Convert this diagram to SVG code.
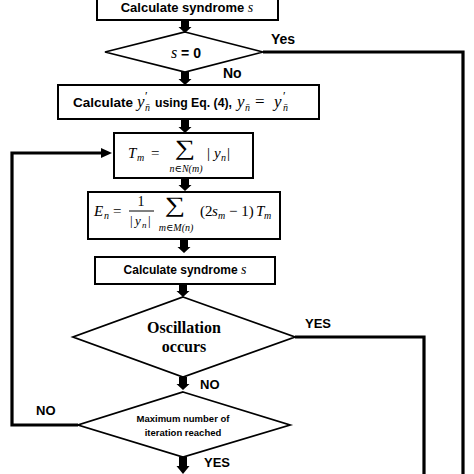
<svg xmlns="http://www.w3.org/2000/svg" width="474" height="474" viewBox="0 0 474 474">
<style>
.box{fill:#fff;stroke:#000;stroke-width:2}
.dia{fill:#fff;stroke:#000;stroke-width:1.8}
.line{fill:none;stroke:#000;stroke-width:3.2}
.blk{fill:#000}
.lbl{font-family:"Liberation Sans",Arial,sans-serif;font-weight:bold;fill:#000}
.m{font-family:"Liberation Serif","DejaVu Serif",serif;font-style:italic;fill:#000}
.mr{font-family:"Liberation Serif","DejaVu Serif",serif;fill:#000}
.tb{font-family:"Liberation Serif","Times New Roman",serif;font-weight:bold;fill:#000}
</style>
<defs>
<path id="barrow" d="M-4,0 H4 V7 H6.5 L0,13 L-6.5,7 H-4 Z"/>
</defs>
<rect width="474" height="474" fill="#fff"/>
<g id="connectors">
<use href="#barrow" class="blk" x="185" y="20"/>
<use href="#barrow" class="blk" x="185" y="72"/>
<use href="#barrow" class="blk" x="185" y="120"/>
<use href="#barrow" class="blk" x="185" y="178"/>
<use href="#barrow" class="blk" x="184" y="240"/>
<use href="#barrow" class="blk" x="183" y="284"/>
<use href="#barrow" class="blk" x="183" y="377"/>
<path class="blk" d="M179,457 H187 V466 H189.5 L183,474 L176.5,466 H179 Z"/>
<polyline class="line" points="263,52 463,52 463,476"/>
<polyline class="line" points="295,337 424,337 424,476"/>
<polyline class="line" points="78,425 12,425 12,153 103,153"/>
<path class="blk" d="M101,148 L112,153 L101,158 Z"/>
<text class="lbl" x="271" y="44" font-size="14">Yes</text>
<text class="lbl" x="223" y="78" font-size="14">No</text>
<text class="lbl" x="305" y="328" font-size="13">YES</text>
<text class="lbl" x="200" y="389" font-size="13">NO</text>
<text class="lbl" x="36" y="415" font-size="13">NO</text>
<text class="lbl" x="204" y="467" font-size="13">YES</text>
</g>
<g id="n1">
<rect class="box" x="97" y="-10" width="181" height="30"/>
<text class="lbl" x="187" y="12" font-size="13" text-anchor="middle">Calculate syndrome <tspan class="m" font-weight="normal" font-size="14">s</tspan></text>
</g>
<g id="n2">
<polygon class="dia" points="185,32 263,52 185,72 105,52"/>
<text class="lbl" x="186" y="58" font-size="14" text-anchor="middle"><tspan class="m" font-weight="normal" font-size="16">s</tspan> = 0</text>
</g>
<g id="n3">
<rect class="box" x="58" y="85" width="261" height="34"/>
<text class="lbl" x="73" y="107" font-size="13.5">Calculate</text>
<text class="m" x="137" y="107" font-size="17">y</text>
<text class="mr" x="145" y="100" font-size="12">′</text>
<text class="m" x="145" y="111" font-size="10">n̄</text>
<text class="lbl" x="155" y="107" font-size="13" textLength="77" lengthAdjust="spacingAndGlyphs">using Eq. (4),</text>
<text class="m" x="237" y="107" font-size="17">y</text>
<text class="m" x="245" y="111" font-size="10">n̄</text>
<text class="mr" x="255" y="107" font-size="17">=</text>
<text class="m" x="274" y="107" font-size="17">y</text>
<text class="mr" x="283" y="100" font-size="12">′</text>
<text class="m" x="283" y="111" font-size="10">n̄</text>
</g>
<g id="n4">
<rect class="box" x="114" y="133" width="139" height="45"/>
<text class="m" x="128" y="158" font-size="15">T</text>
<text class="m" x="137" y="161" font-size="10">m</text>
<text class="mr" x="151" y="158" font-size="15">=</text>
<text class="mr" transform="translate(185,155) scale(1.3,1)" x="0" y="0" font-size="22" text-anchor="middle">∑</text>
<text class="m" x="186" y="172" font-size="10" text-anchor="middle">n∈N(m)</text>
<text class="mr" x="207" y="158" font-size="15">|</text>
<text class="m" x="214" y="158" font-size="15">y</text>
<text class="m" x="221" y="161" font-size="10">n</text>
<text class="mr" x="227" y="158" font-size="15">|</text>
</g>
<g id="n5">
<rect class="box" x="88" y="192" width="192" height="47"/>
<text class="m" x="94" y="216" font-size="15">E</text>
<text class="m" x="104" y="219" font-size="10">n</text>
<text class="mr" x="113" y="216" font-size="15">=</text>
<text class="mr" x="141" y="206" font-size="14" text-anchor="middle">1</text>
<line x1="129" y1="211" x2="154" y2="211" stroke="#000" stroke-width="1"/>
<text class="mr" x="130" y="225" font-size="13">|</text>
<text class="m" x="135" y="225" font-size="13">y</text>
<text class="m" x="142" y="228" font-size="9">n</text>
<text class="mr" x="148" y="225" font-size="13">|</text>
<text class="mr" transform="translate(175,212) scale(1.3,1)" x="0" y="0" font-size="22" text-anchor="middle">∑</text>
<text class="m" x="176" y="231" font-size="10" text-anchor="middle">m∈M(n)</text>
<text class="mr" x="200" y="216" font-size="15">(2</text>
<text class="m" x="212" y="216" font-size="15">s</text>
<text class="m" x="218" y="219" font-size="10">m</text>
<text class="mr" x="229" y="216" font-size="15">− 1)</text>
<text class="m" x="256" y="216" font-size="15">T</text>
<text class="m" x="264" y="219" font-size="10">m</text>
</g>
<g id="n6">
<rect class="box" x="95" y="257" width="180" height="27"/>
<text class="lbl" x="185" y="274" font-size="12" text-anchor="middle">Calculate syndrome <tspan class="m" font-weight="normal" font-size="14">s</tspan></text>
</g>
<g id="n7">
<polygon class="dia" points="183,297 295,337 183,377 73,337"/>
<text class="tb" x="184" y="333" font-size="16" text-anchor="middle">Oscillation</text>
<text class="tb" x="184" y="352" font-size="16" text-anchor="middle">occurs</text>
</g>
<g id="n8">
<polygon class="dia" points="183,392 290,425 183,457 78,425"/>
<text class="lbl" x="183" y="422" font-size="9.5" text-anchor="middle">Maximum number of</text>
<text class="lbl" x="183" y="436" font-size="9.5" text-anchor="middle">iteration reached</text>
</g>
</svg>
